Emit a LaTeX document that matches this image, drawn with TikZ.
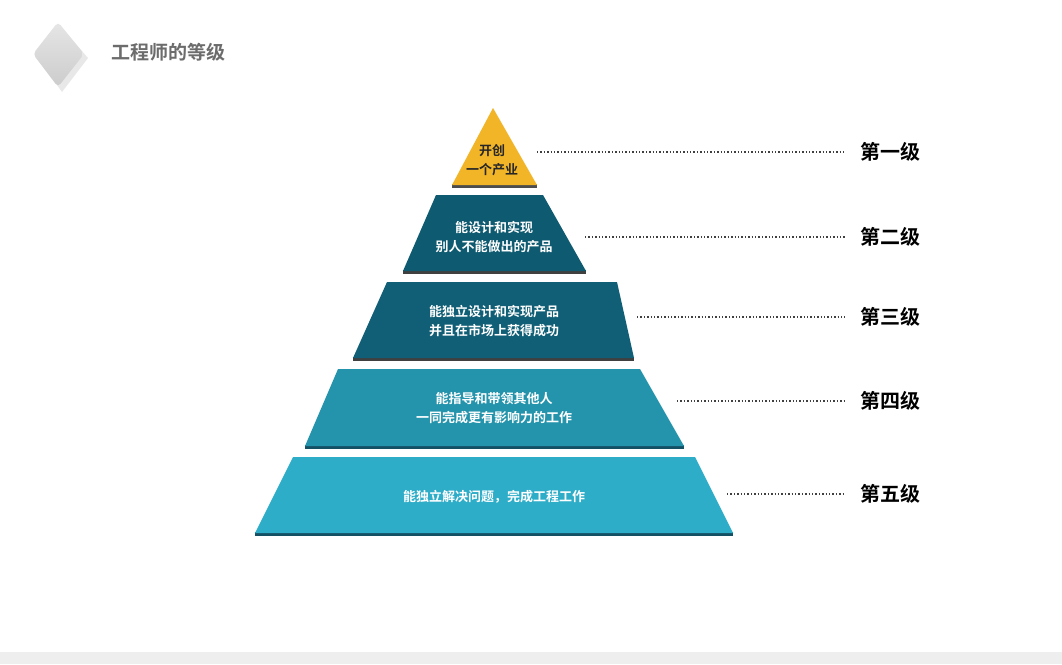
\documentclass[tikz,border=0pt]{standalone}
\usepackage{fontspec}
\setmainfont{Noto Sans CJK SC}
\newfontfamily\cjkb{Noto Sans CJK SC Bold}
\definecolor{cgold}{RGB}{242,181,39}
\definecolor{cdark}{RGB}{14,90,112}
\definecolor{cdarkb}{RGB}{16,95,118}
\definecolor{cmid}{RGB}{36,148,172}
\definecolor{clight}{RGB}{46,173,201}
\definecolor{cedge}{RGB}{20,80,100}
\begin{document}
\begin{tikzpicture}[x=1pt,y=-1pt,
  lay/.style={font=\cjkb\fontsize{13}{19}\selectfont,align=center,text=white},
  lvl/.style={font=\cjkb\fontsize{20}{22}\selectfont,anchor=west},
  dots/.style={dotted,line width=1.4pt,black!75}]
\fill[white] (0,0) rectangle (1062,664);
\useasboundingbox (0,0) rectangle (1062,664);
\fill[gray!13] (0,652) rectangle (1062,664);
% header diamond
\fill[gray!30,opacity=0.6] (62,28) -- (88,58) -- (62,92) -- (38,58) -- cycle;
\shade[top color=gray!20,bottom color=gray!40,rounded corners=4pt] (58,22) -- (84,54) -- (58,87) -- (33,54) -- cycle;
\node[font=\cjkb\fontsize{19}{20}\selectfont,text=gray!85!black,anchor=west] (title) at (108,52) {工程师的等级};
% layers
\fill[black!70] (452,184) rectangle (537,188);
\fill[cgold] (493,108) -- (537,185) -- (452,185) -- cycle;
\fill[black!75] (403,270) rectangle (586,274);
\fill[cdark] (436,195) -- (543,195) -- (586,271) -- (403,271) -- cycle;
\fill[black!75] (353,357) rectangle (634,361);
\fill[cdarkb] (387,282) -- (617,282) -- (634,358) -- (353,358) -- cycle;
\fill[cedge] (305,445) rectangle (684,449);
\fill[cmid] (338,369) -- (640,369) -- (684,446) -- (305,446) -- cycle;
\fill[cedge] (255,532) rectangle (733,536);
\fill[clight] (293,457) -- (695,457) -- (733,533) -- (255,533) -- cycle;
\node[lay,text=black!85] (t1) at (492,160) {开创\\一个产业};
\node[lay] (t2) at (494,237) {能设计和实现\\别人不能做出的产品};
\node[lay] (t3) at (494,321) {能独立设计和实现产品\\并且在市场上获得成功};
\node[lay] (t4) at (494,408) {能指导和带领其他人\\一同完成更有影响力的工作};
\node[lay] (t5) at (494,497) {能独立解决问题，完成工程工作};
% labels
\node[lvl] (l1) at (857,152) {第一级};
\node[lvl] (l2) at (857,237) {第二级};
\node[lvl] (l3) at (857,317) {第三级};
\node[lvl] (l4) at (857,401) {第四级};
\node[lvl] (l5) at (857,494) {第五级};
\coordinate (a1) at (537,152); \coordinate (a2) at (585,237);
\coordinate (a3) at (637,317); \coordinate (a4) at (677,401);
\coordinate (a5) at (727,494);
\foreach \i in {1,...,5}{\draw[dots] (a\i) -- ([xshift=-12pt]l\i.west);}
\end{tikzpicture}
\end{document}
